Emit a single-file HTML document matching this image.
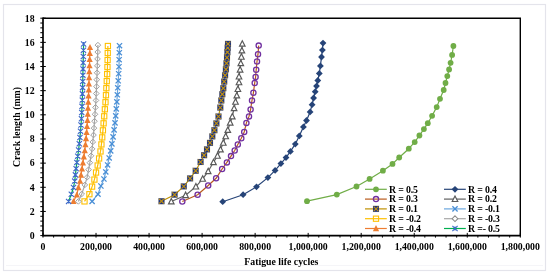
<!DOCTYPE html>
<html><head><meta charset="utf-8"><title>Fatigue life chart</title><style>
html,body{margin:0;padding:0;background:#fff;width:550px;height:274px;overflow:hidden}
svg{display:block}
text{font-family:"Liberation Serif","Times New Roman",serif;font-weight:bold;fill:#000}
</style></head><body>
<svg width="550" height="274" viewBox="0 0 550 274">
<rect x="0" y="0" width="550" height="274" fill="#fff"/>
<rect x="3.5" y="4.5" width="542" height="266" fill="none" stroke="#E4E4EB" stroke-width="1.15"/>
<line x1="6" y1="265.5" x2="543" y2="265.5" stroke="#F5F5F8" stroke-width="1"/>
<polyline fill="none" stroke="#70AD47" stroke-width="1.2" stroke-linejoin="round" points="307,201.2 336.8,194.6 356.5,186.5 369.6,178.9 382.9,170.7 392.5,163.9 399.2,157.5 408.8,148.7 414.7,142.1 419.4,135.5 423.9,129.1 427.8,123.2 432.1,115.8 436.7,107.1 440,98.8 443.7,90 445.5,83 447.3,76.1 449.1,69.5 450.6,62.8 452.1,54.9 453.4,46"/>
<g><circle cx="307" cy="201.2" r="2.9" fill="#70AD47"/><circle cx="336.8" cy="194.6" r="2.9" fill="#70AD47"/><circle cx="356.5" cy="186.5" r="2.9" fill="#70AD47"/><circle cx="369.6" cy="178.9" r="2.9" fill="#70AD47"/><circle cx="382.9" cy="170.7" r="2.9" fill="#70AD47"/><circle cx="392.5" cy="163.9" r="2.9" fill="#70AD47"/><circle cx="399.2" cy="157.5" r="2.9" fill="#70AD47"/><circle cx="408.8" cy="148.7" r="2.9" fill="#70AD47"/><circle cx="414.7" cy="142.1" r="2.9" fill="#70AD47"/><circle cx="419.4" cy="135.5" r="2.9" fill="#70AD47"/><circle cx="423.9" cy="129.1" r="2.9" fill="#70AD47"/><circle cx="427.8" cy="123.2" r="2.9" fill="#70AD47"/><circle cx="432.1" cy="115.8" r="2.9" fill="#70AD47"/><circle cx="436.7" cy="107.1" r="2.9" fill="#70AD47"/><circle cx="440" cy="98.8" r="2.9" fill="#70AD47"/><circle cx="443.7" cy="90" r="2.9" fill="#70AD47"/><circle cx="445.5" cy="83" r="2.9" fill="#70AD47"/><circle cx="447.3" cy="76.1" r="2.9" fill="#70AD47"/><circle cx="449.1" cy="69.5" r="2.9" fill="#70AD47"/><circle cx="450.6" cy="62.8" r="2.9" fill="#70AD47"/><circle cx="452.1" cy="54.9" r="2.9" fill="#70AD47"/><circle cx="453.4" cy="46" r="2.9" fill="#70AD47"/></g>
<polyline fill="none" stroke="#264478" stroke-width="1.2" stroke-linejoin="round" points="222.7,201.7 243.1,194.7 256.5,186.8 267.9,177.6 275.1,170.4 280.9,163.6 286,157.6 290.4,151.4 295.3,144.1 299.3,135.9 303.4,126.9 306.5,120.5 310.1,111.9 312.1,104.7 313.6,98 315.2,91.7 316.5,86.1 317.8,80.5 319.3,73.4 320.4,65.9 321.5,57 322.4,50.1 323,43.1"/>
<g><polygon points="222.7,198.3 226.1,201.7 222.7,205.1 219.3,201.7" fill="#264478"/><polygon points="243.1,191.3 246.5,194.7 243.1,198.1 239.7,194.7" fill="#264478"/><polygon points="256.5,183.4 259.9,186.8 256.5,190.2 253.1,186.8" fill="#264478"/><polygon points="267.9,174.2 271.3,177.6 267.9,181 264.5,177.6" fill="#264478"/><polygon points="275.1,167 278.5,170.4 275.1,173.8 271.7,170.4" fill="#264478"/><polygon points="280.9,160.2 284.3,163.6 280.9,167 277.5,163.6" fill="#264478"/><polygon points="286,154.2 289.4,157.6 286,161 282.6,157.6" fill="#264478"/><polygon points="290.4,148 293.8,151.4 290.4,154.8 287,151.4" fill="#264478"/><polygon points="295.3,140.7 298.7,144.1 295.3,147.5 291.9,144.1" fill="#264478"/><polygon points="299.3,132.5 302.7,135.9 299.3,139.3 295.9,135.9" fill="#264478"/><polygon points="303.4,123.5 306.8,126.9 303.4,130.3 300,126.9" fill="#264478"/><polygon points="306.5,117.1 309.9,120.5 306.5,123.9 303.1,120.5" fill="#264478"/><polygon points="310.1,108.5 313.5,111.9 310.1,115.3 306.7,111.9" fill="#264478"/><polygon points="312.1,101.3 315.5,104.7 312.1,108.1 308.7,104.7" fill="#264478"/><polygon points="313.6,94.6 317,98 313.6,101.4 310.2,98" fill="#264478"/><polygon points="315.2,88.3 318.6,91.7 315.2,95.1 311.8,91.7" fill="#264478"/><polygon points="316.5,82.7 319.9,86.1 316.5,89.5 313.1,86.1" fill="#264478"/><polygon points="317.8,77.1 321.2,80.5 317.8,83.9 314.4,80.5" fill="#264478"/><polygon points="319.3,70 322.7,73.4 319.3,76.8 315.9,73.4" fill="#264478"/><polygon points="320.4,62.5 323.8,65.9 320.4,69.3 317,65.9" fill="#264478"/><polygon points="321.5,53.6 324.9,57 321.5,60.4 318.1,57" fill="#264478"/><polygon points="322.4,46.7 325.8,50.1 322.4,53.5 319,50.1" fill="#264478"/><polygon points="323,39.7 326.4,43.1 323,46.5 319.6,43.1" fill="#264478"/></g>
<polyline fill="none" stroke="#B95A1C" stroke-width="1.2" stroke-linejoin="round" points="182.3,201.5 197.6,194.7 208.2,185.5 216.1,178.3 222.1,169 226.9,162.4 231,156.1 234.7,150.5 237.8,144.5 241.3,138.3 244.2,131.9 246.4,122.9 249,116.4 250.6,109.5 252,100.4 253.4,92.8 254.7,83 255.6,77 256.2,69.7 257,61.5 258,54.2 258.7,45.6"/>
<g><circle cx="182.3" cy="201.5" r="2.6" fill="none" stroke="#7030A0" stroke-width="1.3"/><circle cx="197.6" cy="194.7" r="2.6" fill="none" stroke="#7030A0" stroke-width="1.3"/><circle cx="208.2" cy="185.5" r="2.6" fill="none" stroke="#7030A0" stroke-width="1.3"/><circle cx="216.1" cy="178.3" r="2.6" fill="none" stroke="#7030A0" stroke-width="1.3"/><circle cx="222.1" cy="169" r="2.6" fill="none" stroke="#7030A0" stroke-width="1.3"/><circle cx="226.9" cy="162.4" r="2.6" fill="none" stroke="#7030A0" stroke-width="1.3"/><circle cx="231" cy="156.1" r="2.6" fill="none" stroke="#7030A0" stroke-width="1.3"/><circle cx="234.7" cy="150.5" r="2.6" fill="none" stroke="#7030A0" stroke-width="1.3"/><circle cx="237.8" cy="144.5" r="2.6" fill="none" stroke="#7030A0" stroke-width="1.3"/><circle cx="241.3" cy="138.3" r="2.6" fill="none" stroke="#7030A0" stroke-width="1.3"/><circle cx="244.2" cy="131.9" r="2.6" fill="none" stroke="#7030A0" stroke-width="1.3"/><circle cx="246.4" cy="122.9" r="2.6" fill="none" stroke="#7030A0" stroke-width="1.3"/><circle cx="249" cy="116.4" r="2.6" fill="none" stroke="#7030A0" stroke-width="1.3"/><circle cx="250.6" cy="109.5" r="2.6" fill="none" stroke="#7030A0" stroke-width="1.3"/><circle cx="252" cy="100.4" r="2.6" fill="none" stroke="#7030A0" stroke-width="1.3"/><circle cx="253.4" cy="92.8" r="2.6" fill="none" stroke="#7030A0" stroke-width="1.3"/><circle cx="254.7" cy="83" r="2.6" fill="none" stroke="#7030A0" stroke-width="1.3"/><circle cx="255.6" cy="77" r="2.6" fill="none" stroke="#7030A0" stroke-width="1.3"/><circle cx="256.2" cy="69.7" r="2.6" fill="none" stroke="#7030A0" stroke-width="1.3"/><circle cx="257" cy="61.5" r="2.6" fill="none" stroke="#7030A0" stroke-width="1.3"/><circle cx="258" cy="54.2" r="2.6" fill="none" stroke="#7030A0" stroke-width="1.3"/><circle cx="258.7" cy="45.6" r="2.6" fill="none" stroke="#7030A0" stroke-width="1.3"/></g>
<polyline fill="none" stroke="#606060" stroke-width="1.2" stroke-linejoin="round" points="171.3,201.5 185.6,195.2 195.9,186.6 202.7,178.9 208.2,171.3 213.5,162.3 217.5,155.9 220.5,149.5 223.3,142.9 225.7,136.4 227.8,130 230.2,122.7 232.3,116.5 234.1,108.3 235.5,101.9 236.8,95.5 237.9,89.1 239,82.4 239,76.6 240.1,69.7 240.8,63.3 241.4,56.9 241.9,50.5 242.3,43.8"/>
<g><polygon points="171.3,198.42 174.1,203.88 168.5,203.88" fill="#fff" stroke="#595959" stroke-width="1.15"/><polygon points="185.6,192.12 188.4,197.58 182.8,197.58" fill="#fff" stroke="#595959" stroke-width="1.15"/><polygon points="195.9,183.52 198.7,188.98 193.1,188.98" fill="#fff" stroke="#595959" stroke-width="1.15"/><polygon points="202.7,175.82 205.5,181.28 199.9,181.28" fill="#fff" stroke="#595959" stroke-width="1.15"/><polygon points="208.2,168.22 211,173.68 205.4,173.68" fill="#fff" stroke="#595959" stroke-width="1.15"/><polygon points="213.5,159.22 216.3,164.68 210.7,164.68" fill="#fff" stroke="#595959" stroke-width="1.15"/><polygon points="217.5,152.82 220.3,158.28 214.7,158.28" fill="#fff" stroke="#595959" stroke-width="1.15"/><polygon points="220.5,146.42 223.3,151.88 217.7,151.88" fill="#fff" stroke="#595959" stroke-width="1.15"/><polygon points="223.3,139.82 226.1,145.28 220.5,145.28" fill="#fff" stroke="#595959" stroke-width="1.15"/><polygon points="225.7,133.32 228.5,138.78 222.9,138.78" fill="#fff" stroke="#595959" stroke-width="1.15"/><polygon points="227.8,126.92 230.6,132.38 225,132.38" fill="#fff" stroke="#595959" stroke-width="1.15"/><polygon points="230.2,119.62 233,125.08 227.4,125.08" fill="#fff" stroke="#595959" stroke-width="1.15"/><polygon points="232.3,113.42 235.1,118.88 229.5,118.88" fill="#fff" stroke="#595959" stroke-width="1.15"/><polygon points="234.1,105.22 236.9,110.68 231.3,110.68" fill="#fff" stroke="#595959" stroke-width="1.15"/><polygon points="235.5,98.82 238.3,104.28 232.7,104.28" fill="#fff" stroke="#595959" stroke-width="1.15"/><polygon points="236.8,92.42 239.6,97.88 234,97.88" fill="#fff" stroke="#595959" stroke-width="1.15"/><polygon points="237.9,86.02 240.7,91.48 235.1,91.48" fill="#fff" stroke="#595959" stroke-width="1.15"/><polygon points="239,79.32 241.8,84.78 236.2,84.78" fill="#fff" stroke="#595959" stroke-width="1.15"/><polygon points="239,73.52 241.8,78.98 236.2,78.98" fill="#fff" stroke="#595959" stroke-width="1.15"/><polygon points="240.1,66.62 242.9,72.08 237.3,72.08" fill="#fff" stroke="#595959" stroke-width="1.15"/><polygon points="240.8,60.22 243.6,65.68 238,65.68" fill="#fff" stroke="#595959" stroke-width="1.15"/><polygon points="241.4,53.82 244.2,59.28 238.6,59.28" fill="#fff" stroke="#595959" stroke-width="1.15"/><polygon points="241.9,47.42 244.7,52.88 239.1,52.88" fill="#fff" stroke="#595959" stroke-width="1.15"/><polygon points="242.3,40.72 245.1,46.18 239.5,46.18" fill="#fff" stroke="#595959" stroke-width="1.15"/></g>
<polyline fill="none" stroke="#BF9000" stroke-width="1.2" stroke-linejoin="round" points="161.5,201.2 174.6,194.7 183.8,186.4 190.1,178.4 195.7,170.8 200.6,162 204.1,155.2 207,149.4 210,142.9 212.3,136.4 214.4,130.2 216.4,123.4 218.5,116.5 220.3,107.6 221.3,100.5 222.3,94.2 223.3,88.2 224.2,81.6 225.1,75.3 225.9,69.3 226.5,63.3 227,57.6 227.4,52.2 227.7,47.8 228,43.9"/>
<g><rect x="158.5" y="198.2" width="6" height="6" fill="#1A3285" stroke="#C09010" stroke-width="0.4" stroke-opacity="0.35"/><path d="M159.2 198.9L163.8 203.5M163.8 198.9L159.2 203.5" stroke="#C09010" stroke-width="1.2"/><rect x="171.6" y="191.7" width="6" height="6" fill="#1A3285" stroke="#C09010" stroke-width="0.4" stroke-opacity="0.35"/><path d="M172.3 192.4L176.9 197M176.9 192.4L172.3 197" stroke="#C09010" stroke-width="1.2"/><rect x="180.8" y="183.4" width="6" height="6" fill="#1A3285" stroke="#C09010" stroke-width="0.4" stroke-opacity="0.35"/><path d="M181.5 184.1L186.1 188.7M186.1 184.1L181.5 188.7" stroke="#C09010" stroke-width="1.2"/><rect x="187.1" y="175.4" width="6" height="6" fill="#1A3285" stroke="#C09010" stroke-width="0.4" stroke-opacity="0.35"/><path d="M187.8 176.1L192.4 180.7M192.4 176.1L187.8 180.7" stroke="#C09010" stroke-width="1.2"/><rect x="192.7" y="167.8" width="6" height="6" fill="#1A3285" stroke="#C09010" stroke-width="0.4" stroke-opacity="0.35"/><path d="M193.4 168.5L198 173.1M198 168.5L193.4 173.1" stroke="#C09010" stroke-width="1.2"/><rect x="197.6" y="159" width="6" height="6" fill="#1A3285" stroke="#C09010" stroke-width="0.4" stroke-opacity="0.35"/><path d="M198.3 159.7L202.9 164.3M202.9 159.7L198.3 164.3" stroke="#C09010" stroke-width="1.2"/><rect x="201.1" y="152.2" width="6" height="6" fill="#1A3285" stroke="#C09010" stroke-width="0.4" stroke-opacity="0.35"/><path d="M201.8 152.9L206.4 157.5M206.4 152.9L201.8 157.5" stroke="#C09010" stroke-width="1.2"/><rect x="204" y="146.4" width="6" height="6" fill="#1A3285" stroke="#C09010" stroke-width="0.4" stroke-opacity="0.35"/><path d="M204.7 147.1L209.3 151.7M209.3 147.1L204.7 151.7" stroke="#C09010" stroke-width="1.2"/><rect x="207" y="139.9" width="6" height="6" fill="#1A3285" stroke="#C09010" stroke-width="0.4" stroke-opacity="0.35"/><path d="M207.7 140.6L212.3 145.2M212.3 140.6L207.7 145.2" stroke="#C09010" stroke-width="1.2"/><rect x="209.3" y="133.4" width="6" height="6" fill="#1A3285" stroke="#C09010" stroke-width="0.4" stroke-opacity="0.35"/><path d="M210 134.1L214.6 138.7M214.6 134.1L210 138.7" stroke="#C09010" stroke-width="1.2"/><rect x="211.4" y="127.2" width="6" height="6" fill="#1A3285" stroke="#C09010" stroke-width="0.4" stroke-opacity="0.35"/><path d="M212.1 127.9L216.7 132.5M216.7 127.9L212.1 132.5" stroke="#C09010" stroke-width="1.2"/><rect x="213.4" y="120.4" width="6" height="6" fill="#1A3285" stroke="#C09010" stroke-width="0.4" stroke-opacity="0.35"/><path d="M214.1 121.1L218.7 125.7M218.7 121.1L214.1 125.7" stroke="#C09010" stroke-width="1.2"/><rect x="215.5" y="113.5" width="6" height="6" fill="#1A3285" stroke="#C09010" stroke-width="0.4" stroke-opacity="0.35"/><path d="M216.2 114.2L220.8 118.8M220.8 114.2L216.2 118.8" stroke="#C09010" stroke-width="1.2"/><rect x="217.3" y="104.6" width="6" height="6" fill="#1A3285" stroke="#C09010" stroke-width="0.4" stroke-opacity="0.35"/><path d="M218 105.3L222.6 109.9M222.6 105.3L218 109.9" stroke="#C09010" stroke-width="1.2"/><rect x="218.3" y="97.5" width="6" height="6" fill="#1A3285" stroke="#C09010" stroke-width="0.4" stroke-opacity="0.35"/><path d="M219 98.2L223.6 102.8M223.6 98.2L219 102.8" stroke="#C09010" stroke-width="1.2"/><rect x="219.3" y="91.2" width="6" height="6" fill="#1A3285" stroke="#C09010" stroke-width="0.4" stroke-opacity="0.35"/><path d="M220 91.9L224.6 96.5M224.6 91.9L220 96.5" stroke="#C09010" stroke-width="1.2"/><rect x="220.3" y="85.2" width="6" height="6" fill="#1A3285" stroke="#C09010" stroke-width="0.4" stroke-opacity="0.35"/><path d="M221 85.9L225.6 90.5M225.6 85.9L221 90.5" stroke="#C09010" stroke-width="1.2"/><rect x="221.2" y="78.6" width="6" height="6" fill="#1A3285" stroke="#C09010" stroke-width="0.4" stroke-opacity="0.35"/><path d="M221.9 79.3L226.5 83.9M226.5 79.3L221.9 83.9" stroke="#C09010" stroke-width="1.2"/><rect x="222.1" y="72.3" width="6" height="6" fill="#1A3285" stroke="#C09010" stroke-width="0.4" stroke-opacity="0.35"/><path d="M222.8 73L227.4 77.6M227.4 73L222.8 77.6" stroke="#C09010" stroke-width="1.2"/><rect x="222.9" y="66.3" width="6" height="6" fill="#1A3285" stroke="#C09010" stroke-width="0.4" stroke-opacity="0.35"/><path d="M223.6 67L228.2 71.6M228.2 67L223.6 71.6" stroke="#C09010" stroke-width="1.2"/><rect x="223.5" y="60.3" width="6" height="6" fill="#1A3285" stroke="#C09010" stroke-width="0.4" stroke-opacity="0.35"/><path d="M224.2 61L228.8 65.6M228.8 61L224.2 65.6" stroke="#C09010" stroke-width="1.2"/><rect x="224" y="54.6" width="6" height="6" fill="#1A3285" stroke="#C09010" stroke-width="0.4" stroke-opacity="0.35"/><path d="M224.7 55.3L229.3 59.9M229.3 55.3L224.7 59.9" stroke="#C09010" stroke-width="1.2"/><rect x="224.4" y="49.2" width="6" height="6" fill="#1A3285" stroke="#C09010" stroke-width="0.4" stroke-opacity="0.35"/><path d="M225.1 49.9L229.7 54.5M229.7 49.9L225.1 54.5" stroke="#C09010" stroke-width="1.2"/><rect x="224.7" y="44.8" width="6" height="6" fill="#1A3285" stroke="#C09010" stroke-width="0.4" stroke-opacity="0.35"/><path d="M225.4 45.5L230 50.1M230 45.5L225.4 50.1" stroke="#C09010" stroke-width="1.2"/><rect x="225" y="40.9" width="6" height="6" fill="#1A3285" stroke="#C09010" stroke-width="0.4" stroke-opacity="0.35"/><path d="M225.7 41.6L230.3 46.2M230.3 41.6L225.7 46.2" stroke="#C09010" stroke-width="1.2"/></g>
<polyline fill="none" stroke="#6AA6DE" stroke-width="1.2" stroke-linejoin="round" points="92.1,201.4 98,194.2 100.9,186 103.93,178.99 105.77,171.97 107.61,164.95 109.15,157.94 110.7,150.93 111.92,143.91 113.08,136.89 114.08,129.88 115.02,122.86 115.73,115.85 116.29,108.83 116.85,101.82 117.33,94.8 117.77,87.79 118.22,80.78 118.66,73.76 118.98,66.74 119.15,59.73 119.33,52.71 119.5,45.7"/>
<g><path d="M89.5 198.8L94.7 204M94.7 198.8L89.5 204" stroke="#4A8FD6" stroke-width="1.3"/><path d="M95.4 191.6L100.6 196.8M100.6 191.6L95.4 196.8" stroke="#4A8FD6" stroke-width="1.3"/><path d="M98.3 183.4L103.5 188.6M103.5 183.4L98.3 188.6" stroke="#4A8FD6" stroke-width="1.3"/><path d="M101.33 176.39L106.53 181.59M106.53 176.39L101.33 181.59" stroke="#4A8FD6" stroke-width="1.3"/><path d="M103.17 169.37L108.37 174.57M108.37 169.37L103.17 174.57" stroke="#4A8FD6" stroke-width="1.3"/><path d="M105.01 162.35L110.21 167.55M110.21 162.35L105.01 167.55" stroke="#4A8FD6" stroke-width="1.3"/><path d="M106.55 155.34L111.75 160.54M111.75 155.34L106.55 160.54" stroke="#4A8FD6" stroke-width="1.3"/><path d="M108.1 148.33L113.3 153.53M113.3 148.33L108.1 153.53" stroke="#4A8FD6" stroke-width="1.3"/><path d="M109.32 141.31L114.52 146.51M114.52 141.31L109.32 146.51" stroke="#4A8FD6" stroke-width="1.3"/><path d="M110.48 134.29L115.68 139.49M115.68 134.29L110.48 139.49" stroke="#4A8FD6" stroke-width="1.3"/><path d="M111.48 127.28L116.68 132.48M116.68 127.28L111.48 132.48" stroke="#4A8FD6" stroke-width="1.3"/><path d="M112.42 120.27L117.62 125.46M117.62 120.27L112.42 125.46" stroke="#4A8FD6" stroke-width="1.3"/><path d="M113.13 113.25L118.33 118.45M118.33 113.25L113.13 118.45" stroke="#4A8FD6" stroke-width="1.3"/><path d="M113.69 106.23L118.89 111.43M118.89 106.23L113.69 111.43" stroke="#4A8FD6" stroke-width="1.3"/><path d="M114.25 99.22L119.45 104.42M119.45 99.22L114.25 104.42" stroke="#4A8FD6" stroke-width="1.3"/><path d="M114.73 92.2L119.93 97.4M119.93 92.2L114.73 97.4" stroke="#4A8FD6" stroke-width="1.3"/><path d="M115.17 85.19L120.37 90.39M120.37 85.19L115.17 90.39" stroke="#4A8FD6" stroke-width="1.3"/><path d="M115.62 78.18L120.82 83.38M120.82 78.18L115.62 83.38" stroke="#4A8FD6" stroke-width="1.3"/><path d="M116.06 71.16L121.26 76.36M121.26 71.16L116.06 76.36" stroke="#4A8FD6" stroke-width="1.3"/><path d="M116.38 64.14L121.58 69.34M121.58 64.14L116.38 69.34" stroke="#4A8FD6" stroke-width="1.3"/><path d="M116.55 57.13L121.75 62.33M121.75 57.13L116.55 62.33" stroke="#4A8FD6" stroke-width="1.3"/><path d="M116.73 50.11L121.93 55.31M121.93 50.11L116.73 55.31" stroke="#4A8FD6" stroke-width="1.3"/><path d="M116.9 43.1L122.1 48.3M122.1 43.1L116.9 48.3" stroke="#4A8FD6" stroke-width="1.3"/></g>
<polyline fill="none" stroke="#FFC000" stroke-width="1.2" stroke-linejoin="round" points="84.5,201.4 89.4,194.2 92.1,186.6 94.42,179.57 96.05,172.54 97.68,165.51 99.1,158.48 100.51,151.45 101.43,144.42 102.23,137.39 102.93,130.36 103.59,123.33 104.23,116.3 104.87,109.27 105.5,102.24 105.97,95.21 106.37,88.18 106.77,81.15 107.17,74.12 107.46,67.09 107.61,60.06 107.75,53.03 107.9,46"/>
<g><rect x="81.9" y="198.8" width="5.2" height="5.2" fill="none" stroke="#FFC000" stroke-width="1.1"/><rect x="86.8" y="191.6" width="5.2" height="5.2" fill="none" stroke="#FFC000" stroke-width="1.1"/><rect x="89.5" y="184" width="5.2" height="5.2" fill="none" stroke="#FFC000" stroke-width="1.1"/><rect x="91.82" y="176.97" width="5.2" height="5.2" fill="none" stroke="#FFC000" stroke-width="1.1"/><rect x="93.45" y="169.94" width="5.2" height="5.2" fill="none" stroke="#FFC000" stroke-width="1.1"/><rect x="95.08" y="162.91" width="5.2" height="5.2" fill="none" stroke="#FFC000" stroke-width="1.1"/><rect x="96.5" y="155.88" width="5.2" height="5.2" fill="none" stroke="#FFC000" stroke-width="1.1"/><rect x="97.91" y="148.85" width="5.2" height="5.2" fill="none" stroke="#FFC000" stroke-width="1.1"/><rect x="98.83" y="141.82" width="5.2" height="5.2" fill="none" stroke="#FFC000" stroke-width="1.1"/><rect x="99.63" y="134.79" width="5.2" height="5.2" fill="none" stroke="#FFC000" stroke-width="1.1"/><rect x="100.33" y="127.76" width="5.2" height="5.2" fill="none" stroke="#FFC000" stroke-width="1.1"/><rect x="100.99" y="120.73" width="5.2" height="5.2" fill="none" stroke="#FFC000" stroke-width="1.1"/><rect x="101.63" y="113.7" width="5.2" height="5.2" fill="none" stroke="#FFC000" stroke-width="1.1"/><rect x="102.27" y="106.67" width="5.2" height="5.2" fill="none" stroke="#FFC000" stroke-width="1.1"/><rect x="102.9" y="99.64" width="5.2" height="5.2" fill="none" stroke="#FFC000" stroke-width="1.1"/><rect x="103.37" y="92.61" width="5.2" height="5.2" fill="none" stroke="#FFC000" stroke-width="1.1"/><rect x="103.77" y="85.58" width="5.2" height="5.2" fill="none" stroke="#FFC000" stroke-width="1.1"/><rect x="104.17" y="78.55" width="5.2" height="5.2" fill="none" stroke="#FFC000" stroke-width="1.1"/><rect x="104.57" y="71.52" width="5.2" height="5.2" fill="none" stroke="#FFC000" stroke-width="1.1"/><rect x="104.86" y="64.49" width="5.2" height="5.2" fill="none" stroke="#FFC000" stroke-width="1.1"/><rect x="105.01" y="57.46" width="5.2" height="5.2" fill="none" stroke="#FFC000" stroke-width="1.1"/><rect x="105.15" y="50.43" width="5.2" height="5.2" fill="none" stroke="#FFC000" stroke-width="1.1"/><rect x="105.3" y="43.4" width="5.2" height="5.2" fill="none" stroke="#FFC000" stroke-width="1.1"/></g>
<polyline fill="none" stroke="#A8A8A8" stroke-width="1.2" stroke-linejoin="round" points="78.4,201.4 81.7,194 84.84,184.9 87.12,177.3 88.59,169.7 89.88,162.7 91.04,155.78 92.11,148.86 92.81,141.95 93.5,135.03 94.01,128.11 94.51,121.19 95,114.28 95.48,107.36 95.97,100.44 96.26,93.52 96.54,86.61 96.81,79.69 97.09,72.77 97.32,65.85 97.51,58.94 97.71,52.02 97.9,45.1"/>
<g><polygon points="78.4,198.6 81.2,201.4 78.4,204.2 75.6,201.4" fill="none" stroke="#A0A0A0" stroke-width="1"/><polygon points="81.7,191.2 84.5,194 81.7,196.8 78.9,194" fill="none" stroke="#A0A0A0" stroke-width="1"/><polygon points="84.84,182.1 87.64,184.9 84.84,187.7 82.04,184.9" fill="none" stroke="#A0A0A0" stroke-width="1"/><polygon points="87.12,174.5 89.92,177.3 87.12,180.1 84.32,177.3" fill="none" stroke="#A0A0A0" stroke-width="1"/><polygon points="88.59,166.9 91.39,169.7 88.59,172.5 85.79,169.7" fill="none" stroke="#A0A0A0" stroke-width="1"/><polygon points="89.88,159.9 92.68,162.7 89.88,165.5 87.08,162.7" fill="none" stroke="#A0A0A0" stroke-width="1"/><polygon points="91.04,152.98 93.84,155.78 91.04,158.58 88.24,155.78" fill="none" stroke="#A0A0A0" stroke-width="1"/><polygon points="92.11,146.06 94.91,148.86 92.11,151.66 89.31,148.86" fill="none" stroke="#A0A0A0" stroke-width="1"/><polygon points="92.81,139.15 95.61,141.95 92.81,144.75 90.01,141.95" fill="none" stroke="#A0A0A0" stroke-width="1"/><polygon points="93.5,132.23 96.3,135.03 93.5,137.83 90.7,135.03" fill="none" stroke="#A0A0A0" stroke-width="1"/><polygon points="94.01,125.31 96.81,128.11 94.01,130.91 91.21,128.11" fill="none" stroke="#A0A0A0" stroke-width="1"/><polygon points="94.51,118.39 97.31,121.19 94.51,123.99 91.71,121.19" fill="none" stroke="#A0A0A0" stroke-width="1"/><polygon points="95,111.48 97.8,114.28 95,117.08 92.2,114.28" fill="none" stroke="#A0A0A0" stroke-width="1"/><polygon points="95.48,104.56 98.28,107.36 95.48,110.16 92.68,107.36" fill="none" stroke="#A0A0A0" stroke-width="1"/><polygon points="95.97,97.64 98.77,100.44 95.97,103.24 93.17,100.44" fill="none" stroke="#A0A0A0" stroke-width="1"/><polygon points="96.26,90.72 99.06,93.52 96.26,96.32 93.46,93.52" fill="none" stroke="#A0A0A0" stroke-width="1"/><polygon points="96.54,83.81 99.34,86.61 96.54,89.41 93.74,86.61" fill="none" stroke="#A0A0A0" stroke-width="1"/><polygon points="96.81,76.89 99.61,79.69 96.81,82.49 94.01,79.69" fill="none" stroke="#A0A0A0" stroke-width="1"/><polygon points="97.09,69.97 99.89,72.77 97.09,75.57 94.29,72.77" fill="none" stroke="#A0A0A0" stroke-width="1"/><polygon points="97.32,63.05 100.12,65.85 97.32,68.65 94.52,65.85" fill="none" stroke="#A0A0A0" stroke-width="1"/><polygon points="97.51,56.14 100.31,58.94 97.51,61.74 94.71,58.94" fill="none" stroke="#A0A0A0" stroke-width="1"/><polygon points="97.71,49.22 100.51,52.02 97.71,54.82 94.91,52.02" fill="none" stroke="#A0A0A0" stroke-width="1"/><polygon points="97.9,42.3 100.7,45.1 97.9,47.9 95.1,45.1" fill="none" stroke="#A0A0A0" stroke-width="1"/></g>
<polyline fill="none" stroke="#ED7D31" stroke-width="1.2" stroke-linejoin="round" points="73.5,201.4 76.8,194.8 78.4,187.5 80.1,181.1 81.04,175.02 81.99,168.94 82.93,162.85 83.86,156.77 84.79,150.69 85.44,144.61 86.05,138.53 86.59,132.45 87.03,126.36 87.48,120.28 87.76,114.2 88.03,108.12 88.31,102.04 88.53,95.95 88.74,89.87 88.94,83.79 89.14,77.71 89.35,71.63 89.52,65.55 89.68,59.46 89.84,53.38 90,47.3"/>
<g><polygon points="73.5,197.99 76.6,204.03 70.4,204.03" fill="#ED7D31"/><polygon points="76.8,191.39 79.9,197.44 73.7,197.44" fill="#ED7D31"/><polygon points="78.4,184.09 81.5,190.13 75.3,190.13" fill="#ED7D31"/><polygon points="80.1,177.69 83.2,183.73 77,183.73" fill="#ED7D31"/><polygon points="81.04,171.61 84.14,177.65 77.94,177.65" fill="#ED7D31"/><polygon points="81.99,165.53 85.09,171.57 78.89,171.57" fill="#ED7D31"/><polygon points="82.93,159.44 86.03,165.49 79.83,165.49" fill="#ED7D31"/><polygon points="83.86,153.36 86.96,159.41 80.76,159.41" fill="#ED7D31"/><polygon points="84.79,147.28 87.89,153.33 81.69,153.33" fill="#ED7D31"/><polygon points="85.44,141.2 88.54,147.24 82.34,147.24" fill="#ED7D31"/><polygon points="86.05,135.12 89.15,141.16 82.95,141.16" fill="#ED7D31"/><polygon points="86.59,129.04 89.69,135.08 83.49,135.08" fill="#ED7D31"/><polygon points="87.03,122.95 90.13,129 83.93,129" fill="#ED7D31"/><polygon points="87.48,116.87 90.58,122.92 84.38,122.92" fill="#ED7D31"/><polygon points="87.76,110.79 90.86,116.83 84.66,116.83" fill="#ED7D31"/><polygon points="88.03,104.71 91.13,110.75 84.93,110.75" fill="#ED7D31"/><polygon points="88.31,98.63 91.41,104.67 85.21,104.67" fill="#ED7D31"/><polygon points="88.53,92.54 91.63,98.59 85.43,98.59" fill="#ED7D31"/><polygon points="88.74,86.46 91.84,92.51 85.64,92.51" fill="#ED7D31"/><polygon points="88.94,80.38 92.04,86.43 85.84,86.43" fill="#ED7D31"/><polygon points="89.14,74.3 92.24,80.34 86.04,80.34" fill="#ED7D31"/><polygon points="89.35,68.22 92.45,74.26 86.25,74.26" fill="#ED7D31"/><polygon points="89.52,62.14 92.62,68.18 86.42,68.18" fill="#ED7D31"/><polygon points="89.68,56.05 92.78,62.1 86.58,62.1" fill="#ED7D31"/><polygon points="89.84,49.97 92.94,56.02 86.74,56.02" fill="#ED7D31"/><polygon points="90,43.89 93.1,49.93 86.9,49.93" fill="#ED7D31"/></g>
<polyline fill="none" stroke="#00B050" stroke-width="1.2" stroke-linejoin="round" points="68.6,201.4 71.3,194.2 73.5,187.5 74.7,181.1 75.4,174.87 76.09,168.64 76.86,162.4 77.74,156.17 78.61,149.94 79.27,143.71 79.94,137.48 80.5,131.25 81,125.01 81.45,118.78 81.74,112.55 82.02,106.32 82.3,100.09 82.44,93.85 82.59,87.62 82.73,81.39 82.88,75.16 83.02,68.93 83.17,62.7 83.31,56.46 83.46,50.23 83.6,44"/>
<g><path d="M66 198.8L71.2 204M71.2 198.8L66 204M68.6 199.32L68.6 203.48" stroke="#3F6BC9" stroke-width="1.15"/><path d="M68.7 191.6L73.9 196.8M73.9 191.6L68.7 196.8M71.3 192.12L71.3 196.28" stroke="#3F6BC9" stroke-width="1.15"/><path d="M70.9 184.9L76.1 190.1M76.1 184.9L70.9 190.1M73.5 185.42L73.5 189.58" stroke="#3F6BC9" stroke-width="1.15"/><path d="M72.1 178.5L77.3 183.7M77.3 178.5L72.1 183.7M74.7 179.02L74.7 183.18" stroke="#3F6BC9" stroke-width="1.15"/><path d="M72.8 172.27L78 177.47M78 172.27L72.8 177.47M75.4 172.79L75.4 176.95" stroke="#3F6BC9" stroke-width="1.15"/><path d="M73.49 166.04L78.69 171.24M78.69 166.04L73.49 171.24M76.09 166.56L76.09 170.72" stroke="#3F6BC9" stroke-width="1.15"/><path d="M74.26 159.8L79.46 165M79.46 159.8L74.26 165M76.86 160.32L76.86 164.48" stroke="#3F6BC9" stroke-width="1.15"/><path d="M75.14 153.57L80.34 158.77M80.34 153.57L75.14 158.77M77.74 154.09L77.74 158.25" stroke="#3F6BC9" stroke-width="1.15"/><path d="M76.01 147.34L81.21 152.54M81.21 147.34L76.01 152.54M78.61 147.86L78.61 152.02" stroke="#3F6BC9" stroke-width="1.15"/><path d="M76.67 141.11L81.87 146.31M81.87 141.11L76.67 146.31M79.27 141.63L79.27 145.79" stroke="#3F6BC9" stroke-width="1.15"/><path d="M77.34 134.88L82.54 140.08M82.54 134.88L77.34 140.08M79.94 135.4L79.94 139.56" stroke="#3F6BC9" stroke-width="1.15"/><path d="M77.9 128.65L83.1 133.85M83.1 128.65L77.9 133.85M80.5 129.17L80.5 133.33" stroke="#3F6BC9" stroke-width="1.15"/><path d="M78.4 122.41L83.6 127.61M83.6 122.41L78.4 127.61M81 122.93L81 127.09" stroke="#3F6BC9" stroke-width="1.15"/><path d="M78.85 116.18L84.05 121.38M84.05 116.18L78.85 121.38M81.45 116.7L81.45 120.86" stroke="#3F6BC9" stroke-width="1.15"/><path d="M79.14 109.95L84.34 115.15M84.34 109.95L79.14 115.15M81.74 110.47L81.74 114.63" stroke="#3F6BC9" stroke-width="1.15"/><path d="M79.42 103.72L84.62 108.92M84.62 103.72L79.42 108.92M82.02 104.24L82.02 108.4" stroke="#3F6BC9" stroke-width="1.15"/><path d="M79.7 97.49L84.9 102.69M84.9 97.49L79.7 102.69M82.3 98.01L82.3 102.17" stroke="#3F6BC9" stroke-width="1.15"/><path d="M79.84 91.25L85.04 96.45M85.04 91.25L79.84 96.45M82.44 91.77L82.44 95.93" stroke="#3F6BC9" stroke-width="1.15"/><path d="M79.99 85.02L85.19 90.22M85.19 85.02L79.99 90.22M82.59 85.54L82.59 89.7" stroke="#3F6BC9" stroke-width="1.15"/><path d="M80.13 78.79L85.33 83.99M85.33 78.79L80.13 83.99M82.73 79.31L82.73 83.47" stroke="#3F6BC9" stroke-width="1.15"/><path d="M80.28 72.56L85.48 77.76M85.48 72.56L80.28 77.76M82.88 73.08L82.88 77.24" stroke="#3F6BC9" stroke-width="1.15"/><path d="M80.42 66.33L85.62 71.53M85.62 66.33L80.42 71.53M83.02 66.85L83.02 71.01" stroke="#3F6BC9" stroke-width="1.15"/><path d="M80.57 60.1L85.77 65.3M85.77 60.1L80.57 65.3M83.17 60.62L83.17 64.78" stroke="#3F6BC9" stroke-width="1.15"/><path d="M80.71 53.86L85.91 59.06M85.91 53.86L80.71 59.06M83.31 54.38L83.31 58.54" stroke="#3F6BC9" stroke-width="1.15"/><path d="M80.86 47.63L86.06 52.83M86.06 47.63L80.86 52.83M83.46 48.15L83.46 52.31" stroke="#3F6BC9" stroke-width="1.15"/><path d="M81 41.4L86.2 46.6M86.2 41.4L81 46.6M83.6 41.92L83.6 46.08" stroke="#3F6BC9" stroke-width="1.15"/></g>
<g stroke="#000" fill="none">
<path d="M43 18.2H520.3V235.6" stroke-width="1.4"/>
<path d="M43 17.6V235.6H521" stroke-width="1.7"/>
<path d="M40.3 235.6H45.8M40.3 230.77H43M40.3 225.94H43M40.3 221.11H43M40.3 216.28H43M40.3 211.44H45.8M40.3 206.61H43M40.3 201.78H43M40.3 196.95H43M40.3 192.12H43M40.3 187.29H45.8M40.3 182.46H43M40.3 177.63H43M40.3 172.8H43M40.3 167.96H43M40.3 163.13H45.8M40.3 158.3H43M40.3 153.47H43M40.3 148.64H43M40.3 143.81H43M40.3 138.98H45.8M40.3 134.15H43M40.3 129.32H43M40.3 124.48H43M40.3 119.65H43M40.3 114.82H45.8M40.3 109.99H43M40.3 105.16H43M40.3 100.33H43M40.3 95.5H43M40.3 90.67H45.8M40.3 85.84H43M40.3 81H43M40.3 76.17H43M40.3 71.34H43M40.3 66.51H45.8M40.3 61.68H43M40.3 56.85H43M40.3 52.02H43M40.3 47.19H43M40.3 42.36H45.8M40.3 37.52H43M40.3 32.69H43M40.3 27.86H43M40.3 23.03H43M40.3 18.2H45.8" stroke-width="1"/>
<path d="M43 232.9V237.6M53.61 235.6V237.6M64.21 235.6V237.6M74.82 235.6V237.6M85.43 235.6V237.6M96.03 232.9V237.6M106.64 235.6V237.6M117.25 235.6V237.6M127.85 235.6V237.6M138.46 235.6V237.6M149.07 232.9V237.6M159.67 235.6V237.6M170.28 235.6V237.6M180.89 235.6V237.6M191.49 235.6V237.6M202.1 232.9V237.6M212.71 235.6V237.6M223.31 235.6V237.6M233.92 235.6V237.6M244.53 235.6V237.6M255.13 232.9V237.6M265.74 235.6V237.6M276.35 235.6V237.6M286.95 235.6V237.6M297.56 235.6V237.6M308.17 232.9V237.6M318.77 235.6V237.6M329.38 235.6V237.6M339.99 235.6V237.6M350.59 235.6V237.6M361.2 232.9V237.6M371.81 235.6V237.6M382.41 235.6V237.6M393.02 235.6V237.6M403.63 235.6V237.6M414.23 232.9V237.6M424.84 235.6V237.6M435.45 235.6V237.6M446.05 235.6V237.6M456.66 235.6V237.6M467.27 232.9V237.6M477.87 235.6V237.6M488.48 235.6V237.6M499.09 235.6V237.6M509.69 235.6V237.6M520.3 232.9V237.6" stroke-width="1"/>
</g>
<text x="34.6" y="238.9" font-size="9.8" text-anchor="end">0</text>
<text x="34.6" y="214.74" font-size="9.8" text-anchor="end">2</text>
<text x="34.6" y="190.59" font-size="9.8" text-anchor="end">4</text>
<text x="34.6" y="166.43" font-size="9.8" text-anchor="end">6</text>
<text x="34.6" y="142.28" font-size="9.8" text-anchor="end">8</text>
<text x="34.6" y="118.12" font-size="9.8" text-anchor="end">10</text>
<text x="34.6" y="93.97" font-size="9.8" text-anchor="end">12</text>
<text x="34.6" y="69.81" font-size="9.8" text-anchor="end">14</text>
<text x="34.6" y="45.66" font-size="9.8" text-anchor="end">16</text>
<text x="34.6" y="21.5" font-size="9.8" text-anchor="end">18</text>
<text x="43" y="250" font-size="9.8" text-anchor="middle">0</text>
<text x="96.03" y="250" font-size="9.8" text-anchor="middle">200,000</text>
<text x="149.07" y="250" font-size="9.8" text-anchor="middle">400,000</text>
<text x="202.1" y="250" font-size="9.8" text-anchor="middle">600,000</text>
<text x="255.13" y="250" font-size="9.8" text-anchor="middle">800,000</text>
<text x="308.17" y="250" font-size="9.8" text-anchor="middle">1,000,000</text>
<text x="361.2" y="250" font-size="9.8" text-anchor="middle">1,200,000</text>
<text x="414.23" y="250" font-size="9.8" text-anchor="middle">1,400,000</text>
<text x="467.27" y="250" font-size="9.8" text-anchor="middle">1,600,000</text>
<text x="520.3" y="250" font-size="9.8" text-anchor="middle">1,800,000</text>
<text x="281.3" y="265" font-size="9.8" text-anchor="middle">Fatigue life cycles</text>
<text transform="translate(20.4 127) rotate(-90)" x="0" y="0" font-size="9.8" text-anchor="middle">Crack length (mm)</text>
<line x1="365" y1="189.3" x2="386.8" y2="189.3" stroke="#70AD47" stroke-width="1.2"/>
<circle cx="376" cy="189.3" r="2.9" fill="#70AD47"/>
<text x="389" y="192.5" font-size="9.8" letter-spacing="-0.15">R = 0.5</text>
<line x1="444" y1="189.3" x2="465.8" y2="189.3" stroke="#264478" stroke-width="1.2"/>
<polygon points="455,185.9 458.4,189.3 455,192.7 451.6,189.3" fill="#264478"/>
<text x="468" y="192.5" font-size="9.8" letter-spacing="-0.15">R = 0.4</text>
<line x1="365" y1="199.1" x2="386.8" y2="199.1" stroke="#B95A1C" stroke-width="1.2"/>
<circle cx="376" cy="199.1" r="2.6" fill="none" stroke="#7030A0" stroke-width="1.3"/>
<text x="389" y="202.3" font-size="9.8" letter-spacing="-0.15">R = 0.3</text>
<line x1="444" y1="199.1" x2="465.8" y2="199.1" stroke="#606060" stroke-width="1.2"/>
<polygon points="455,196.02 457.8,201.48 452.2,201.48" fill="#fff" stroke="#595959" stroke-width="1.15"/>
<text x="468" y="202.3" font-size="9.8" letter-spacing="-0.15">R = 0.2</text>
<line x1="365" y1="208.9" x2="386.8" y2="208.9" stroke="#BF9000" stroke-width="1.2"/>
<rect x="373" y="205.9" width="6" height="6" fill="#1A3285" stroke="#C09010" stroke-width="0.4" stroke-opacity="0.35"/><path d="M373.7 206.6L378.3 211.2M378.3 206.6L373.7 211.2" stroke="#C09010" stroke-width="1.2"/>
<text x="389" y="212.1" font-size="9.8" letter-spacing="-0.15">R = 0.1</text>
<line x1="444" y1="208.9" x2="465.8" y2="208.9" stroke="#6AA6DE" stroke-width="1.2"/>
<path d="M452.4 206.3L457.6 211.5M457.6 206.3L452.4 211.5" stroke="#4A8FD6" stroke-width="1.3"/>
<text x="468" y="212.1" font-size="9.8" letter-spacing="-0.15">R = -0.1</text>
<line x1="365" y1="218.7" x2="386.8" y2="218.7" stroke="#FFC000" stroke-width="1.2"/>
<rect x="373.4" y="216.1" width="5.2" height="5.2" fill="none" stroke="#FFC000" stroke-width="1.1"/>
<text x="389" y="221.9" font-size="9.8" letter-spacing="-0.15">R = -0.2</text>
<line x1="444" y1="218.7" x2="465.8" y2="218.7" stroke="#A8A8A8" stroke-width="1.2"/>
<polygon points="455,215.8 457.9,218.7 455,221.6 452.1,218.7" fill="#fff" stroke="#8C8C8C" stroke-width="1.05"/>
<text x="468" y="221.9" font-size="9.8" letter-spacing="-0.15">R = -0.3</text>
<line x1="365" y1="228.5" x2="386.8" y2="228.5" stroke="#ED7D31" stroke-width="1.2"/>
<polygon points="376,225.09 379.1,231.13 372.9,231.13" fill="#ED7D31"/>
<text x="389" y="231.7" font-size="9.8" letter-spacing="-0.15">R = -0.4</text>
<line x1="444" y1="228.5" x2="465.8" y2="228.5" stroke="#00B050" stroke-width="1.2"/>
<path d="M452.4 225.9L457.6 231.1M457.6 225.9L452.4 231.1M455 226.42L455 230.58" stroke="#3F6BC9" stroke-width="1.15"/>
<text x="468" y="231.7" font-size="9.8" letter-spacing="-0.15">R =- 0.5</text>
</svg>
</body></html>
